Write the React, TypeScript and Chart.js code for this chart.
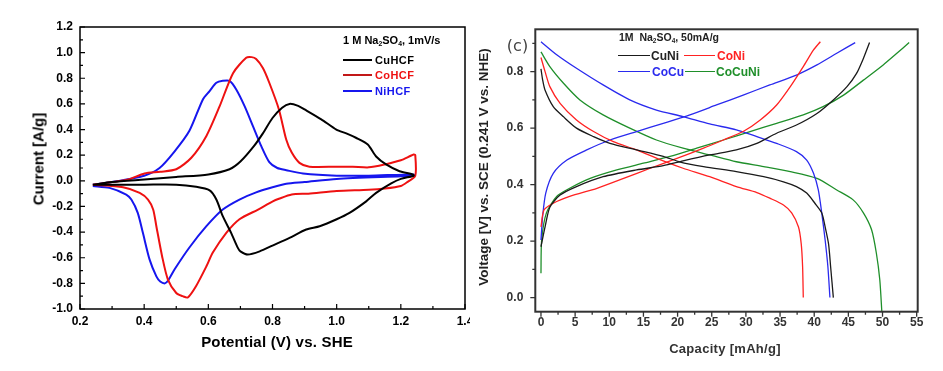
import React, { useEffect, useRef } from "react";
import { Chart, registerables } from "chart.js";

Chart.register(...registerables);
Chart.defaults.font.family = "'Liberation Sans', Arial, sans-serif";

// ---------------- Left panel: cyclic voltammetry ----------------
const cvXTicks = [0.2, 0.4, 0.6, 0.8, 1.0, 1.2, 1.4];
const cvYTicks = [-1.0, -0.8, -0.6, -0.4, -0.2, 0.0, 0.2, 0.4, 0.6, 0.8, 1.0, 1.2];

const cuhcfPotential = [
  0.24, 0.3, 0.4, 0.5, 0.6, 0.666, 0.7, 0.742, 0.77, 0.8, 0.83, 0.853, 0.88, 0.9, 0.952, 0.999, 1.03, 1.06, 1.097,
  1.123, 1.154, 1.196, 1.237,
  1.24, 1.2, 1.17, 1.123, 1.092, 1.04, 1.0, 0.947, 0.905, 0.853, 0.8, 0.76, 0.723, 0.7, 0.692, 0.671, 0.645, 0.625,
  0.604, 0.562, 0.5, 0.4, 0.3, 0.24,
];
const cuhcfCurrent = [
  -0.03, -0.01, 0.01, 0.03, 0.05, 0.09, 0.15, 0.27, 0.37, 0.49, 0.57, 0.6, 0.585, 0.557, 0.48, 0.4, 0.37, 0.336, 0.284,
  0.19, 0.128, 0.075, 0.05,
  0.04, 0.015, -0.02, -0.094, -0.16, -0.25, -0.3, -0.354, -0.38, -0.445, -0.505, -0.55, -0.575, -0.55, -0.523, -0.406,
  -0.276, -0.146, -0.075, -0.047, -0.03, -0.03, -0.03, -0.03,
];

const cohcfPotential = [
  0.24, 0.3, 0.35, 0.401, 0.45, 0.5, 0.547, 0.594, 0.635, 0.677, 0.718, 0.735, 0.749, 0.77, 0.79, 0.82, 0.843, 0.86,
  0.884, 0.915, 1.0, 1.05, 1.1, 1.15, 1.2, 1.24,
  1.245, 1.245, 1.22, 1.2, 1.15, 1.1, 1.0, 0.912, 0.86, 0.82, 0.801, 0.755, 0.697, 0.656, 0.614, 0.594, 0.562, 0.536,
  0.52, 0.5, 0.474, 0.456, 0.438, 0.428, 0.412, 0.386, 0.334, 0.24,
];
const cohcfCurrent = [
  -0.03, -0.01, 0.01, 0.057, 0.07, 0.09, 0.18, 0.35, 0.58, 0.84, 0.96, 0.965, 0.95, 0.88, 0.765, 0.557, 0.32, 0.22,
  0.14, 0.11, 0.11, 0.11, 0.105, 0.128, 0.16, 0.205,
  0.2, 0.04, -0.01, -0.04, -0.06, -0.07, -0.08, -0.1, -0.107, -0.14, -0.16, -0.224, -0.3, -0.406, -0.56, -0.667,
  -0.82, -0.91, -0.9, -0.875, -0.77, -0.59, -0.354, -0.224, -0.146, -0.094, -0.05, -0.03,
];

const nihcfPotential = [
  0.24, 0.3, 0.4, 0.448, 0.495, 0.541, 0.583, 0.604, 0.625, 0.645, 0.666, 0.687, 0.713, 0.739, 0.765, 0.79, 0.815,
  0.843, 0.895, 1.0, 1.1, 1.24,
  1.24, 1.2, 1.0, 0.9, 0.843, 0.8, 0.749, 0.697, 0.645, 0.594, 0.541, 0.495, 0.474, 0.465, 0.45, 0.438, 0.417, 0.396,
  0.38, 0.36, 0.344, 0.292, 0.24,
];
const nihcfCurrent = [
  -0.03, -0.01, 0.04, 0.1, 0.23, 0.39, 0.635, 0.7, 0.765, 0.78, 0.78, 0.713, 0.583, 0.427, 0.27, 0.146, 0.1, 0.083,
  0.057, 0.04, 0.04, 0.05,
  0.04, 0.035, 0.015, -0.01, -0.023, -0.05, -0.09, -0.146, -0.224, -0.354, -0.52, -0.69, -0.78, -0.8, -0.785, -0.745,
  -0.615, -0.406, -0.25, -0.146, -0.107, -0.055, -0.04,
];

// ---------------- Right panel: charge / discharge ----------------
const capXTicks = [0, 5, 10, 15, 20, 25, 30, 35, 40, 45, 50, 55];
const voltYTicks = [0.0, 0.2, 0.4, 0.6, 0.8];

const cuNiDisCap = [0, 0.25, 0.59, 1.8, 3.3, 5.2, 7.7, 10.1, 14, 17.9, 20.4, 23.8, 28.6, 32.6, 35.5, 37.4, 38.9, 40.1, 41.1, 41.6, 42.1, 42.4, 42.8];
const cuNiDisV = [0.81, 0.77, 0.735, 0.676, 0.64, 0.6, 0.57, 0.546, 0.523, 0.5, 0.48, 0.464, 0.446, 0.428, 0.41, 0.393, 0.37, 0.334, 0.3, 0.25, 0.19, 0.11, 0.0];
const cuNiChCap = [0, 0.6, 1.3, 2.8, 5.2, 9.1, 14, 17.9, 20.8, 24.7, 28.6, 31.6, 34.5, 37.4, 40.4, 42.8, 44.8, 46.2, 47.2, 48.1];
const cuNiChV = [0.18, 0.25, 0.32, 0.363, 0.393, 0.428, 0.452, 0.467, 0.484, 0.505, 0.523, 0.546, 0.582, 0.611, 0.652, 0.7, 0.747, 0.794, 0.847, 0.903];

const coNiDisCap = [0, 0.6, 1.3, 2.8, 5.2, 7.7, 10.6, 14, 17.9, 20.8, 24.7, 28.6, 31.6, 33.5, 35.5, 36.7, 37.7, 38.1, 38.3, 38.4];
const coNiDisV = [0.85, 0.8, 0.747, 0.688, 0.629, 0.588, 0.552, 0.523, 0.484, 0.458, 0.428, 0.393, 0.372, 0.352, 0.328, 0.3, 0.25, 0.19, 0.11, 0.0];
const coNiChCap = [0, 0.44, 1.8, 4.2, 8.2, 12.1, 16, 19.9, 23.8, 26.7, 29.6, 32.1, 34.5, 36.5, 38.4, 39.9, 40.9];
const coNiChV = [0.25, 0.31, 0.334, 0.358, 0.387, 0.422, 0.458, 0.493, 0.529, 0.558, 0.588, 0.629, 0.682, 0.747, 0.818, 0.877, 0.906];

const coCuDisCap = [0, 2.3, 5.2, 9.1, 13, 16.9, 20.8, 24.7, 28.6, 31.6, 34.5, 37.4, 38.9, 39.9, 40.6, 41.1, 41.6, 42, 42.3];
const coCuDisV = [0.906, 0.86, 0.812, 0.753, 0.7, 0.664, 0.641, 0.615, 0.594, 0.57, 0.546, 0.517, 0.487, 0.44, 0.381, 0.3, 0.204, 0.11, 0.0];
const coCuChCap = [0, 0.24, 0.7, 1.8, 3.8, 6.7, 10.1, 14, 17.9, 21.8, 25.7, 29.6, 33.5, 37.4, 40.4, 43.3, 46];
const coCuChV = [0.204, 0.287, 0.37, 0.44, 0.487, 0.523, 0.558, 0.588, 0.617, 0.647, 0.682, 0.717, 0.753, 0.788, 0.824, 0.865, 0.903];

const coCuNiDisCap = [0, 1.3, 3.3, 5.7, 9.1, 13, 16.9, 20.8, 24.7, 28.6, 32.6, 36.5, 40.4, 43.3, 45.7, 47.2, 48.4, 49.1, 49.6, 49.9];
const coCuNiDisV = [0.87, 0.818, 0.759, 0.7, 0.647, 0.6, 0.558, 0.529, 0.505, 0.481, 0.464, 0.446, 0.422, 0.381, 0.346, 0.3, 0.24, 0.157, 0.063, -0.05];
const coCuNiChCap = [0, 0.1, 0.8, 2.3, 4.2, 7.2, 11.1, 15, 18.9, 22.8, 26.7, 30.6, 34.5, 38.4, 41.3, 44.3, 47.2, 50.1, 52.1, 53.9];
const coCuNiChV = [0.086, 0.204, 0.3, 0.358, 0.387, 0.422, 0.452, 0.476, 0.5, 0.529, 0.558, 0.588, 0.617, 0.647, 0.676, 0.717, 0.77, 0.824, 0.865, 0.903];

// ---------------- helpers ----------------
const pts = (xs: number[], ys: number[]) => xs.map((x, i) => ({ x, y: ys[i] }));
const FONT = "'Liberation Sans', Arial, sans-serif";

const framePlugin = {
  id: "frame",
  afterDraw(chart: any, _args: any, opts: any) {
    const { ctx, chartArea } = chart;
    const { left, right, top, bottom } = chartArea;
    const xs = chart.scales.x;
    const ys = chart.scales.y;
    const dir = opts.inward ? -1 : 1;
    ctx.save();
    ctx.strokeStyle = opts.color;
    ctx.lineWidth = opts.tickWidth;
    ctx.beginPath();
    const drawSet = (scale: any, horizontal: boolean) => {
      const vals = scale.ticks.map((t: any) => t.value);
      const step = vals[1] - vals[0];
      vals.forEach((v: number) => {
        const p = scale.getPixelForValue(v);
        if (horizontal) {
          ctx.moveTo(p, bottom);
          ctx.lineTo(p, bottom + dir * opts.major);
        } else {
          ctx.moveTo(left, p);
          ctx.lineTo(left - dir * opts.major, p);
        }
      });
      for (let v = vals[0] - step / 2; v <= scale.max + 1e-9; v += step) {
        if (v < scale.min - 1e-9) continue;
        const p = scale.getPixelForValue(v);
        if (horizontal) {
          ctx.moveTo(p, bottom);
          ctx.lineTo(p, bottom + dir * opts.minor);
        } else {
          ctx.moveTo(left, p);
          ctx.lineTo(left - dir * opts.minor, p);
        }
      }
    };
    drawSet(xs, true);
    drawSet(ys, false);
    ctx.stroke();
    ctx.lineWidth = opts.width;
    ctx.strokeRect(left, top, right - left, bottom - top);
    ctx.restore();
  },
};

function cvConfig(): any {
  const line = (data: any, color: string) => ({
    data,
    borderColor: color,
    borderWidth: 2,
    pointRadius: 0,
    tension: 0.25,
    fill: false,
  });
  return {
    type: "line",
    data: {
      datasets: [
        line(pts(cuhcfPotential, cuhcfCurrent), "#000000"),
        line(pts(cohcfPotential, cohcfCurrent), "#ee1111"),
        line(pts(nihcfPotential, nihcfCurrent), "#1616ee"),
      ],
    },
    options: {
      responsive: false,
      animation: false,
      layout: { padding: { left: 0, right: 5, top: 27, bottom: 0 } },
      plugins: {
        legend: { display: false },
        tooltip: { enabled: false },
        frame: { inward: true, color: "#000", width: 1.5, tickWidth: 1.2, major: 5, minor: 3 },
      },
      scales: {
        x: {
          type: "linear",
          min: 0.2,
          max: 1.4,
          grid: { display: false, drawTicks: false },
          border: { display: false },
          ticks: {
            padding: 5,
            color: "#000",
            font: { size: 12, weight: "bold" },
            maxRotation: 0,
            autoSkip: false,
            callback: (v: any) => Number(v).toFixed(1),
          },
          afterBuildTicks: (s: any) => {
            s.ticks = cvXTicks.map((v) => ({ value: v }));
          },
          afterFit: (s: any) => {
            s.height = 62;
            s.paddingLeft = 0;
            s.paddingRight = 0;
          },
        },
        y: {
          type: "linear",
          min: -1.0,
          max: 1.2,
          grid: { display: false, drawTicks: false },
          border: { display: false },
          ticks: {
            padding: 7,
            color: "#000",
            font: { size: 12, weight: "bold" },
            autoSkip: false,
            callback: (v: any) => Number(v).toFixed(1),
          },
          afterBuildTicks: (s: any) => {
            s.ticks = cvYTicks.map((v) => ({ value: v }));
          },
          afterFit: (s: any) => {
            s.width = 80;
            s.paddingTop = 0;
            s.paddingBottom = 0;
          },
        },
      },
    },
    plugins: [framePlugin],
  };
}

function gcdConfig(): any {
  const line = (data: any, color: string) => ({
    data,
    borderColor: color,
    borderWidth: 1.3,
    pointRadius: 0,
    tension: 0.25,
    fill: false,
  });
  const K = "#1a1a1a";
  const R = "#ff2222";
  const B = "#2a2aee";
  const G = "#1f8f2a";
  return {
    type: "line",
    data: {
      datasets: [
        line(pts(cuNiDisCap, cuNiDisV), K),
        line(pts(cuNiChCap, cuNiChV), K),
        line(pts(coNiDisCap, coNiDisV), R),
        line(pts(coNiChCap, coNiChV), R),
        line(pts(coCuDisCap, coCuDisV), B),
        line(pts(coCuChCap, coCuChV), B),
        line(pts(coCuNiDisCap, coCuNiDisV), G),
        line(pts(coCuNiChCap, coCuNiChV), G),
      ],
    },
    options: {
      responsive: false,
      animation: false,
      layout: { padding: { left: 0, right: 25.3, top: 29.3, bottom: 0 } },
      plugins: {
        legend: { display: false },
        tooltip: { enabled: false },
        frame: { inward: false, color: "#333", width: 2, tickWidth: 1.3, major: 5, minor: 3 },
      },
      scales: {
        x: {
          type: "linear",
          min: -0.83,
          max: 55.15,
          grid: { display: false, drawTicks: false },
          border: { display: false },
          ticks: {
            padding: 3.5,
            color: "#333",
            font: { size: 12, weight: "bold" },
            maxRotation: 0,
            autoSkip: false,
            callback: (v: any) => String(Math.round(Number(v))),
          },
          afterBuildTicks: (s: any) => {
            s.ticks = capXTicks.map((v) => ({ value: v }));
          },
          afterFit: (s: any) => {
            s.height = 59.3;
            s.paddingLeft = 0;
            s.paddingRight = 0;
          },
        },
        y: {
          type: "linear",
          min: -0.05,
          max: 0.95,
          grid: { display: false, drawTicks: false },
          border: { display: false },
          ticks: {
            padding: 12,
            color: "#333",
            font: { size: 12, weight: "bold" },
            autoSkip: false,
            callback: (v: any) => Number(v).toFixed(1),
          },
          afterBuildTicks: (s: any) => {
            s.ticks = voltYTicks.map((v) => ({ value: v }));
          },
          afterFit: (s: any) => {
            s.width = 65.3;
            s.paddingTop = 0;
            s.paddingBottom = 0;
          },
        },
      },
    },
    plugins: [framePlugin],
  };
}

function ChartCanvas({ make, left, width }: { make: () => any; left: number; width: number }) {
  const ref = useRef<HTMLCanvasElement>(null);
  useEffect(() => {
    const chart = new Chart(ref.current as HTMLCanvasElement, make());
    return () => chart.destroy();
  }, []);
  return (
    <canvas
      ref={ref}
      width={width}
      height={371}
      style={{ position: "absolute", left, top: 0, width, height: 371 }}
    />
  );
}

const Sub = ({ children }: { children: any }) => (
  <sub style={{ fontSize: "0.62em", verticalAlign: "-0.35em", lineHeight: 0 }}>{children}</sub>
);

function Txt({
  x,
  y,
  children,
  size,
  color = "#000",
  weight = "bold",
  anchor = "center",
  rotate = 0,
  family = FONT,
  spacing = 0,
}: any) {
  const tx = anchor === "center" ? "-50%" : "0";
  return (
    <div
      style={{
        position: "absolute",
        left: x,
        top: y,
        transform: `translate(${tx}, -50%) rotate(${rotate}deg)`,
        whiteSpace: "nowrap",
        lineHeight: 1,
        fontFamily: family,
        fontSize: size,
        fontWeight: weight as any,
        color,
        letterSpacing: spacing,
      }}
    >
      {children}
    </div>
  );
}

const Swatch = ({ x1, x2, y, color, h }: any) => (
  <div style={{ position: "absolute", left: x1, top: y - h / 2, width: x2 - x1, height: h, background: color }} />
);

export default function App() {
  return (
    <div style={{ position: "absolute", left: 0, top: 0, width: 943, height: 371, background: "#fff", overflow: "hidden" }}>
      <ChartCanvas make={cvConfig} left={0} width={470} />
      <ChartCanvas make={gcdConfig} left={470} width={473} />

      {/* left panel texts */}
      <Txt x={38} y={159} size={15} rotate={-90}>Current [A/g]</Txt>
      <Txt x={277} y={341} size={15} spacing={0.2}>Potential (V) vs. SHE</Txt>
      <Txt x={343} y={40} size={11} anchor="left">
        1 M Na<Sub>2</Sub>SO<Sub>4</Sub>, 1mV/s
      </Txt>
      <Swatch x1={343} x2={372} y={59.5} color="#000" h={2} />
      <Txt x={375} y={59.5} size={11} anchor="left" spacing={0.4}>CuHCF</Txt>
      <Swatch x1={343} x2={372} y={74.5} color="#c21818" h={2} />
      <Txt x={375} y={74.5} size={11} anchor="left" spacing={0.4} color="#ee1111">CoHCF</Txt>
      <Swatch x1={343} x2={372} y={90.5} color="#1616ee" h={2} />
      <Txt x={375} y={90.5} size={11} anchor="left" spacing={0.4} color="#1616ee">NiHCF</Txt>

      {/* right panel texts */}
      <Txt x={484} y={167} size={13.5} rotate={-90} color="#222">Voltage [V] vs. SCE (0.241 V vs. NHE)</Txt>
      <Txt x={725} y={348} size={13} color="#333" spacing={0.3}>Capacity [mAh/g]</Txt>
      <Txt x={517.5} y={46} size={16} weight="normal" color="#444" family="'DejaVu Sans', sans-serif">(c)</Txt>
      <Txt x={619} y={37.3} size={10.5} anchor="left" color="#222">
        1M&nbsp; Na<Sub>2</Sub>SO<Sub>4</Sub>, 50mA/g
      </Txt>
      <Swatch x1={618} x2={650} y={55.5} color="#1a1a1a" h={1.4} />
      <Txt x={651} y={55.5} size={12} anchor="left" color="#222">CuNi</Txt>
      <Swatch x1={684} x2={715} y={55.5} color="#ff2222" h={1.4} />
      <Txt x={717} y={55.5} size={12} anchor="left" color="#ff2222">CoNi</Txt>
      <Swatch x1={618} x2={650} y={71.7} color="#2a2aee" h={1.4} />
      <Txt x={652} y={71.7} size={12} anchor="left" color="#2a2aee">CoCu</Txt>
      <Swatch x1={685} x2={715} y={71.7} color="#1f8f2a" h={1.4} />
      <Txt x={716} y={71.7} size={12} anchor="left" color="#1f8f2a">CoCuNi</Txt>
    </div>
  );
}
